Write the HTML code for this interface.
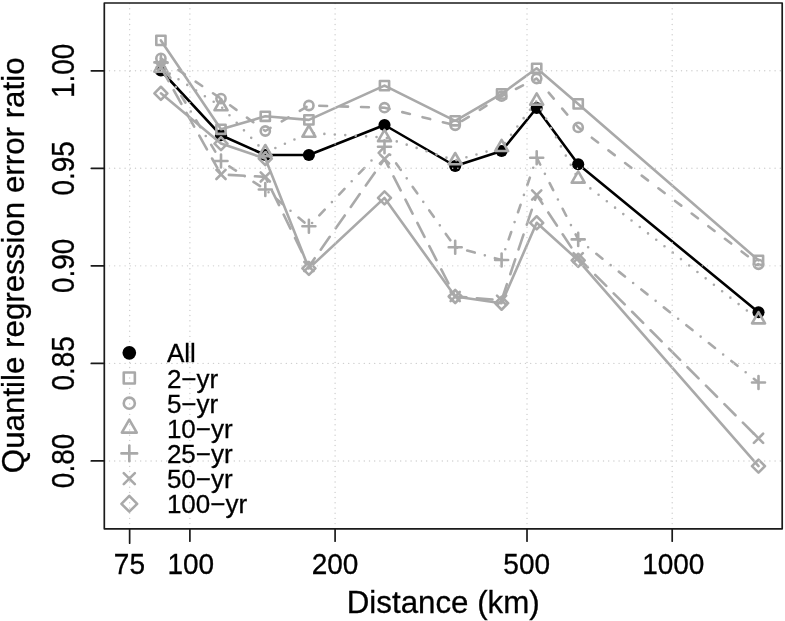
<!DOCTYPE html>
<html><head><meta charset="utf-8"><title>Quantile regression error ratio</title>
<style>html,body{margin:0;padding:0;background:#fff}svg{display:block}text{font-family:"Liberation Sans",Arial,Helvetica,sans-serif;fill:#000;stroke:#000;stroke-width:0.3px}</style></head><body>
<svg width="785" height="621" viewBox="0 0 785 621">
<rect width="785" height="621" fill="#fff"/>
<g fill="none" stroke="#000" stroke-width="2.6" stroke-linecap="round" stroke-linejoin="round">
<polyline points="160.9,70.5 221,135.3 265.3,155 308.9,155 384.5,125 455.2,166 501.6,151 536.7,108 578.2,164.3 758.5,312.2"/>
<circle cx="160.9" cy="70.5" r="6.05" fill="#000" stroke="none"/>
<circle cx="221" cy="135.3" r="6.05" fill="#000" stroke="none"/>
<circle cx="265.3" cy="155" r="6.05" fill="#000" stroke="none"/>
<circle cx="308.9" cy="155" r="6.05" fill="#000" stroke="none"/>
<circle cx="384.5" cy="125" r="6.05" fill="#000" stroke="none"/>
<circle cx="455.2" cy="166" r="6.05" fill="#000" stroke="none"/>
<circle cx="501.6" cy="151" r="6.05" fill="#000" stroke="none"/>
<circle cx="536.7" cy="108" r="6.05" fill="#000" stroke="none"/>
<circle cx="578.2" cy="164.3" r="6.05" fill="#000" stroke="none"/>
<circle cx="758.5" cy="312.2" r="6.05" fill="#000" stroke="none"/>
</g>
<g fill="none" stroke="#a9a9a9" stroke-width="2.6" stroke-linecap="round" stroke-linejoin="round">
<polyline points="160.9,40.4 221,129.3 265.3,116.3 308.9,119.9 384.5,85.6 455.2,120.8 501.6,93.9 536.7,68.3 578.2,103.9 758.5,260.3"/>
<rect x="156.3" y="35.8" width="9.2" height="9.2"/>
<rect x="216.4" y="124.7" width="9.2" height="9.2"/>
<rect x="260.7" y="111.7" width="9.2" height="9.2"/>
<rect x="304.3" y="115.3" width="9.2" height="9.2"/>
<rect x="379.9" y="81" width="9.2" height="9.2"/>
<rect x="450.6" y="116.2" width="9.2" height="9.2"/>
<rect x="497" y="89.3" width="9.2" height="9.2"/>
<rect x="532.1" y="63.7" width="9.2" height="9.2"/>
<rect x="573.6" y="99.3" width="9.2" height="9.2"/>
<rect x="753.9" y="255.7" width="9.2" height="9.2"/>
</g>
<g fill="none" stroke="#a9a9a9" stroke-width="2.6" stroke-linecap="round" stroke-linejoin="round">
<polyline points="160.9,58.4 221,98.6 265.3,131 308.9,105.5 384.5,107.7 455.2,125.3 501.6,96.2 536.7,78.5 578.2,127.4 758.5,264.3" stroke-dasharray="7.836 13.060"/>
<circle cx="160.9" cy="58.4" r="4.6"/>
<circle cx="221" cy="98.6" r="4.6"/>
<circle cx="265.3" cy="131" r="4.6"/>
<circle cx="308.9" cy="105.5" r="4.6"/>
<circle cx="384.5" cy="107.7" r="4.6"/>
<circle cx="455.2" cy="125.3" r="4.6"/>
<circle cx="501.6" cy="96.2" r="4.6"/>
<circle cx="536.7" cy="78.5" r="4.6"/>
<circle cx="578.2" cy="127.4" r="4.6"/>
<circle cx="758.5" cy="264.3" r="4.6"/>
</g>
<g fill="none" stroke="#a9a9a9" stroke-width="2.6" stroke-linecap="round" stroke-linejoin="round">
<polyline points="160.9,68 221,106.5 265.3,152.5 308.9,133 384.5,137.4 455.2,160.5 501.6,147.3 536.7,100.9 578.2,178.9 758.5,319.6" stroke-dasharray="0 10.448"/>
<path d="M160.9 60.49L167.4 71.76L154.4 71.76Z"/>
<path d="M221 98.99L227.5 110.26L214.5 110.26Z"/>
<path d="M265.3 144.99L271.8 156.26L258.8 156.26Z"/>
<path d="M308.9 125.49L315.4 136.76L302.4 136.76Z"/>
<path d="M384.5 129.89L391 141.16L378 141.16Z"/>
<path d="M455.2 152.99L461.7 164.26L448.7 164.26Z"/>
<path d="M501.6 139.79L508.1 151.06L495.1 151.06Z"/>
<path d="M536.7 93.39L543.2 104.66L530.2 104.66Z"/>
<path d="M578.2 171.39L584.7 182.66L571.7 182.66Z"/>
<path d="M758.5 312.09L765 323.36L752 323.36Z"/>
</g>
<g fill="none" stroke="#a9a9a9" stroke-width="2.6" stroke-linecap="round" stroke-linejoin="round">
<polyline points="160.9,62.4 221,161 265.3,189.5 308.9,226.3 384.5,146.8 455.2,247.2 501.6,260 536.7,157.7 578.2,239.4 758.5,382.5" stroke-dasharray="0 10.448 7.836 10.448"/>
<path d="M154.39 62.4H167.41M160.9 55.89V68.91"/>
<path d="M214.49 161H227.51M221 154.49V167.51"/>
<path d="M258.79 189.5H271.81M265.3 182.99V196.01"/>
<path d="M302.39 226.3H315.41M308.9 219.79V232.81"/>
<path d="M377.99 146.8H391.01M384.5 140.29V153.31"/>
<path d="M448.69 247.2H461.71M455.2 240.69V253.71"/>
<path d="M495.09 260H508.11M501.6 253.49V266.51"/>
<path d="M530.19 157.7H543.21M536.7 151.19V164.21"/>
<path d="M571.69 239.4H584.71M578.2 232.89V245.91"/>
<path d="M751.99 382.5H765.01M758.5 375.99V389.01"/>
</g>
<g fill="none" stroke="#a9a9a9" stroke-width="2.6" stroke-linecap="round" stroke-linejoin="round">
<polyline points="160.9,67.4 221,174.4 265.3,176.9 308.9,266.5 384.5,158.9 455.2,296.5 501.6,300.2 536.7,195 578.2,257.8 758.5,438.3" stroke-dasharray="15.672 10.448"/>
<path d="M156.3 62.8L165.5 72M156.3 72L165.5 62.8"/>
<path d="M216.4 169.8L225.6 179M216.4 179L225.6 169.8"/>
<path d="M260.7 172.3L269.9 181.5M260.7 181.5L269.9 172.3"/>
<path d="M304.3 261.9L313.5 271.1M304.3 271.1L313.5 261.9"/>
<path d="M379.9 154.3L389.1 163.5M379.9 163.5L389.1 154.3"/>
<path d="M450.6 291.9L459.8 301.1M450.6 301.1L459.8 291.9"/>
<path d="M497 295.6L506.2 304.8M497 304.8L506.2 295.6"/>
<path d="M532.1 190.4L541.3 199.6M532.1 199.6L541.3 190.4"/>
<path d="M573.6 253.2L582.8 262.4M573.6 262.4L582.8 253.2"/>
<path d="M753.9 433.7L763.1 442.9M753.9 442.9L763.1 433.7"/>
</g>
<g fill="none" stroke="#a9a9a9" stroke-width="2.6" stroke-linecap="round" stroke-linejoin="round">
<polyline points="160.9,93.3 221,143.6 265.3,158.6 308.9,268.4 384.5,197.9 455.2,296.5 501.6,303.2 536.7,222.8 578.2,260.3 758.5,466.1"/>
<path d="M154.39 93.3L160.9 86.79L167.41 93.3L160.9 99.81Z"/>
<path d="M214.49 143.6L221 137.09L227.51 143.6L221 150.11Z"/>
<path d="M258.79 158.6L265.3 152.09L271.81 158.6L265.3 165.11Z"/>
<path d="M302.39 268.4L308.9 261.89L315.41 268.4L308.9 274.91Z"/>
<path d="M377.99 197.9L384.5 191.39L391.01 197.9L384.5 204.41Z"/>
<path d="M448.69 296.5L455.2 289.99L461.71 296.5L455.2 303.01Z"/>
<path d="M495.09 303.2L501.6 296.69L508.11 303.2L501.6 309.71Z"/>
<path d="M530.19 222.8L536.7 216.29L543.21 222.8L536.7 229.31Z"/>
<path d="M571.69 260.3L578.2 253.79L584.71 260.3L578.2 266.81Z"/>
<path d="M751.99 466.1L758.5 459.59L765.01 466.1L758.5 472.61Z"/>
</g>
<g fill="none" stroke="#cfcfcf" stroke-width="1.45" stroke-linecap="round" stroke-dasharray="0 5.2">
<line x1="129.64" y1="528.8" x2="129.64" y2="3"/>
<line x1="189.9" y1="528.8" x2="189.9" y2="3"/>
<line x1="335.09" y1="528.8" x2="335.09" y2="3"/>
<line x1="527.01" y1="528.8" x2="527.01" y2="3"/>
<line x1="672.2" y1="528.8" x2="672.2" y2="3"/>
<line x1="104.3" y1="460.9" x2="782.2" y2="460.9"/>
<line x1="104.3" y1="363.38" x2="782.2" y2="363.38"/>
<line x1="104.3" y1="265.85" x2="782.2" y2="265.85"/>
<line x1="104.3" y1="168.33" x2="782.2" y2="168.33"/>
<line x1="104.3" y1="70.8" x2="782.2" y2="70.8"/>
</g>
<g fill="none" stroke="#1a1a1a" stroke-width="1.7" stroke-linecap="round" stroke-linejoin="round">
<rect x="104.3" y="3" width="677.9" height="525.8"/>
<line x1="189.9" y1="528.8" x2="189.9" y2="541.2"/>
<line x1="335.09" y1="528.8" x2="335.09" y2="541.2"/>
<line x1="527.01" y1="528.8" x2="527.01" y2="541.2"/>
<line x1="672.2" y1="528.8" x2="672.2" y2="541.2"/>
<line x1="129.64" y1="528.8" x2="129.64" y2="543.2"/>
<line x1="104.3" y1="460.9" x2="91.3" y2="460.9"/>
<line x1="104.3" y1="363.38" x2="91.3" y2="363.38"/>
<line x1="104.3" y1="265.85" x2="91.3" y2="265.85"/>
<line x1="104.3" y1="168.33" x2="91.3" y2="168.33"/>
<line x1="104.3" y1="70.8" x2="91.3" y2="70.8"/>
</g>
<g font-size="28" text-anchor="middle">
<text transform="translate(129.44 574.4) scale(1 1.07)">75</text>
<text transform="translate(190.8 574.4) scale(1 1.07)">100</text>
<text transform="translate(334.99 574.4) scale(1 1.07)">200</text>
<text transform="translate(526.71 574.4) scale(1 1.07)">500</text>
<text transform="translate(673.3 574.4) scale(1 1.07)">1000</text>
</g>
<g font-size="28" text-anchor="middle">
<text transform="translate(73.5 460.9) rotate(-90) scale(1 1.12)">0.80</text>
<text transform="translate(73.5 363.38) rotate(-90) scale(1 1.12)">0.85</text>
<text transform="translate(73.5 265.85) rotate(-90) scale(1 1.12)">0.90</text>
<text transform="translate(73.5 168.33) rotate(-90) scale(1 1.12)">0.95</text>
<text transform="translate(73.5 70.8) rotate(-90) scale(1 1.12)">1.00</text>
</g>
<g font-size="31.3" text-anchor="middle">
<text x="443.25" y="613.2">Distance (km)</text>
<text transform="translate(23.8 265.3) rotate(-90)">Quantile regression error ratio</text>
</g>
<g fill="none" stroke="#000" stroke-width="2.6" stroke-linecap="round" stroke-linejoin="round"><circle cx="129.3" cy="352.8" r="6.85" fill="#000" stroke="none"/></g>
<g fill="none" stroke="#a9a9a9" stroke-width="2.6" stroke-linecap="round" stroke-linejoin="round"><rect x="123.75" y="372.45" width="11.1" height="11.1"/></g>
<g fill="none" stroke="#a9a9a9" stroke-width="2.6" stroke-linecap="round" stroke-linejoin="round"><circle cx="129.3" cy="403.2" r="5.55"/></g>
<g fill="none" stroke="#a9a9a9" stroke-width="2.6" stroke-linecap="round" stroke-linejoin="round"><path d="M129.3 419.67L136.77 432.62L121.83 432.62Z"/></g>
<g fill="none" stroke="#a9a9a9" stroke-width="2.6" stroke-linecap="round" stroke-linejoin="round"><path d="M121.45 453.4H137.15M129.3 445.55V461.25"/></g>
<g fill="none" stroke="#a9a9a9" stroke-width="2.6" stroke-linecap="round" stroke-linejoin="round"><path d="M123.75 473.05L134.85 484.15M123.75 484.15L134.85 473.05"/></g>
<g fill="none" stroke="#a9a9a9" stroke-width="2.6" stroke-linecap="round" stroke-linejoin="round"><path d="M121.45 503.8L129.3 495.95L137.15 503.8L129.3 511.65Z"/></g>
<g font-size="26">
<text x="166.9" y="362.4">All</text>
<text x="166.9" y="387.6">2−yr</text>
<text x="166.9" y="412.8">5−yr</text>
<text x="166.9" y="437.9">10−yr</text>
<text x="166.9" y="463">25−yr</text>
<text x="166.9" y="488.2">50−yr</text>
<text x="166.9" y="513.4">100−yr</text>
</g>
</svg></body></html>
